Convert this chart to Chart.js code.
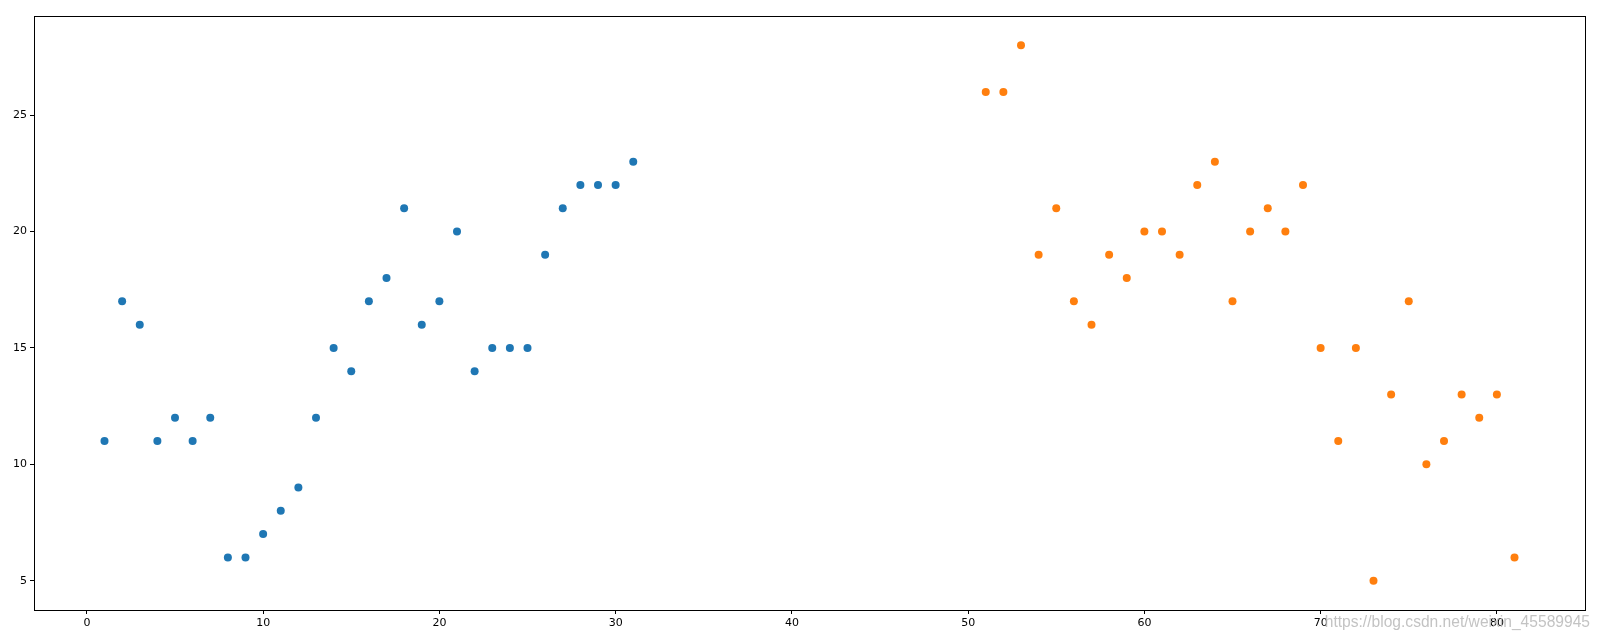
<!DOCTYPE html>
<html>
<head>
<meta charset="utf-8">
<script src="https://cdn.jsdelivr.net/npm/chart.js@4/dist/chart.umd.min.js"></script>
<style>
  html, body { margin: 0; padding: 0; background: #fff; }
  #wrap { width: 1600px; height: 640px; }
</style>
</head>
<body>
<div id="wrap"><canvas id="chart" width="1600" height="640"></canvas></div>
<script>
// first series: x = 1..31
const blueX = [1,2,3,4,5,6,7,8,9,10,11,12,13,14,15,16,17,18,19,20,21,22,23,24,25,26,27,28,29,30,31];
const blueY = [11,17,16,11,12,11,12,6,6,7,8,9,12,15,14,17,18,21,16,17,20,14,15,15,15,19,21,22,22,22,23];

// second series: x = 51..81
const orangeX = [51,52,53,54,55,56,57,58,59,60,61,62,63,64,65,66,67,68,69,70,71,72,73,74,75,76,77,78,79,80,81];
const orangeY = [26,26,28,19,21,17,16,19,18,20,20,19,22,23,17,20,21,20,22,15,11,15,5,13,17,10,11,13,12,13,6];

const xTicks = [0,10,20,30,40,50,60,70,80];
const yTicks = [5,10,15,20,25];

const watermark = 'https://blog.csdn.net/weixin_45589945';

function toPoints(xs, ys) {
    let pts = new Array();
    for (let i = 0; i < xs.length; i++) {
        pts.push({x: xs[i], y: ys[i]});
    }
    return pts;
}

const framePlugin = {
    id: 'frame',
    afterDatasetsDraw(chart) {
        const a = chart.chartArea;
        const ctx = chart.ctx;
        ctx.save();
        ctx.strokeStyle = '#000';
        ctx.lineWidth = 1;
        ctx.strokeRect(Math.round(a.left) + 0.5, Math.round(a.top) + 0.5,
            Math.round(a.right - a.left), Math.round(a.bottom - a.top));
        ctx.restore();
    },
    afterDraw(chart) {
        const ctx = chart.ctx;
        ctx.save();
        ctx.font = '15.6px "Liberation Sans", Arial, sans-serif';
        ctx.fillStyle = 'rgba(185,185,185,0.85)';
        ctx.textAlign = 'right';
        ctx.textBaseline = 'alphabetic';
        ctx.fillText(watermark, 1590, 627);
        ctx.restore();
    }
};

const tickFont = {family: '"DejaVu Sans", sans-serif', size: 11};

new Chart(document.getElementById('chart'), {
    type: 'scatter',
    data: {
        datasets: [
            {
                data: toPoints(blueX, blueY),
                backgroundColor: '#1f77b4',
                borderColor: '#1f77b4',
                borderWidth: 0,
                pointRadius: 4,
                pointHoverRadius: 4
            },
            {
                data: toPoints(orangeX, orangeY),
                backgroundColor: '#ff7f0e',
                borderColor: '#ff7f0e',
                borderWidth: 0,
                pointRadius: 4,
                pointHoverRadius: 4
            }
        ]
    },
    options: {
        responsive: false,
        maintainAspectRatio: false,
        animation: false,
        layout: {padding: {left: 0, top: 16, right: 15, bottom: 0}},
        plugins: {
            legend: {display: false},
            tooltip: {enabled: false}
        },
        scales: {
            x: {
                type: 'linear',
                min: -3,
                max: 85,
                afterBuildTicks: (scale) => { scale.ticks = xTicks.map(v => ({value: v})); },
                afterFit: (scale) => { scale.height = 30; },
                grid: {drawOnChartArea: false, drawTicks: true, tickLength: 4, color: '#000'},
                border: {display: true, color: '#000'},
                ticks: {font: tickFont, color: '#000', padding: 3, maxRotation: 0}
            },
            y: {
                type: 'linear',
                min: 3.74,
                max: 29.26,
                afterBuildTicks: (scale) => { scale.ticks = yTicks.map(v => ({value: v})); },
                afterFit: (scale) => { scale.width = 34; },
                grid: {drawOnChartArea: false, drawTicks: true, tickLength: 4, color: '#000'},
                border: {display: true, color: '#000'},
                ticks: {font: tickFont, color: '#000', padding: 3}
            }
        }
    },
    plugins: [framePlugin]
});
</script>
</body>
</html>
